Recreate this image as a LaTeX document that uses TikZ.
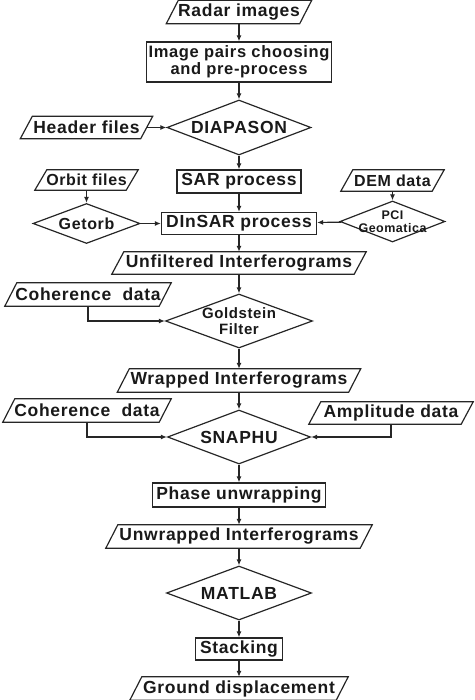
\documentclass[tikz,border=0pt]{standalone}
\usepackage{fontspec}
\setmainfont{Liberation Sans}[LetterSpace=4]
\usetikzlibrary{shapes.geometric,arrows.meta}
\newcommand\paranode[7][]{%
  \node[plain, minimum width=#5, minimum height=#6, #1] (#2) at (#3,#4) {#7};
  \draw[ln] ([xshift=-6pt]#2.south west) -- ([xshift=-6pt]#2.south east)
    -- ([xshift=6pt]#2.north east) -- ([xshift=6pt]#2.north west) -- cycle;
}
\begin{document}
\begin{tikzpicture}[x=1pt,y=-1pt,
  every node/.style={font=\bfseries\fontsize{17.5}{17.5}\selectfont, text=black!90},
  ln/.style={line width=1.2pt, draw=black!85},
  plain/.style={inner sep=0pt, align=center},
  box/.style={ln, rectangle, inner sep=0pt, align=center},
  dia/.style={ln, diamond, inner sep=-8pt, align=center},
  small/.style={font=\bfseries\fontsize{16}{16}\selectfont},
  arr/.style={ln, -{Latex[length=6pt,width=5pt]}},
]
\useasboundingbox (0,0) rectangle (474,700);

\paranode{radar}{239}{12}{133}{23}{Radar images}
\node[box, minimum width=185, minimum height=40, font=\bfseries\fontsize{16.5}{17}\selectfont] (pairs) at (239,62) {Image pairs choosing\\and pre-process};
\node[dia, minimum width=144, minimum height=55, aspect=2.6] (diapason) at (239,127.5) {DIAPASON};
\paranode{header}{86.5}{127.5}{120}{22}{Header files}
\node[box, minimum width=124, minimum height=23] (sar) at (239,181.5) {SAR process};
\paranode[small]{orbit}{86.5}{180}{91}{20}{Orbit files}
\paranode[small]{dem}{392.5}{180.5}{91}{21}{DEM data}
\node[dia, small, minimum width=107, minimum height=40, aspect=2.7] (getorb) at (86.5,223.5) {Getorb};
\node[box, minimum width=155, minimum height=22] (dinsar) at (239,223.5) {DInSAR process};
\node[dia, minimum width=105, minimum height=41, aspect=2.6, font=\bfseries\fontsize{12.5}{13}\selectfont, yshift=2pt] (pci) at (392.5,223.5) {PCI\\Geomatica};
\paranode{unfilt}{239}{263}{242}{22}{Unfiltered Interferograms}
\paranode{coh1}{88}{294.5}{154}{23}{Coherence\ \ data}
\node[dia, minimum width=147, minimum height=54, aspect=2.7, font=\bfseries\fontsize{15}{16}\selectfont] (gold) at (239,321) {Goldstein\\Filter};
\paranode{wrapped}{239}{380.5}{231}{23}{Wrapped Interferograms}
\paranode{coh2}{87}{410.5}{156}{23}{Coherence\ \ data}
\paranode{amp}{391}{413}{152}{22}{Amplitude data}
\node[dia, minimum width=143, minimum height=54, aspect=2.65] (snaphu) at (239,437) {SNAPHU};
\node[box, minimum width=173, minimum height=24] (phase) at (239,495) {Phase unwrapping};
\paranode{unwr}{239}{536.5}{254}{23}{Unwrapped Interferograms}
\node[dia, minimum width=145, minimum height=54, aspect=2.7] (matlab) at (239,593) {MATLAB};
\node[box, minimum width=87, minimum height=22] (stack) at (239,649) {Stacking};
\paranode{ground}{239}{688.5}{206}{23}{Ground displacement}

\draw[arr] (radar) -- (pairs);
\draw[arr] (pairs) -- (diapason);
\draw[arr] (header) -- (diapason);
\draw[arr] (diapason) -- (sar);
\draw[arr] (sar) -- (dinsar);
\draw[arr] (orbit) -- (getorb);
\draw[arr] (getorb) -- (dinsar);
\draw[arr] (dem) -- (pci.north);
\draw[arr] (pci) -- (dinsar);
\draw[arr] (dinsar) -- (unfilt);
\draw[arr] (unfilt) -- (gold);
\draw[arr] (coh1.south) |- (gold.west);
\draw[arr] (gold) -- (wrapped);
\draw[arr] (wrapped) -- (snaphu);
\draw[arr] (coh2.south) |- (snaphu.west);
\draw[arr] (amp.south) |- (snaphu.east);
\draw[arr] (snaphu) -- (phase);
\draw[arr] (phase) -- (unwr);
\draw[arr] (unwr) -- (matlab);
\draw[arr] (matlab) -- (stack);
\draw[arr] (stack) -- (ground);
\end{tikzpicture}
\end{document}
